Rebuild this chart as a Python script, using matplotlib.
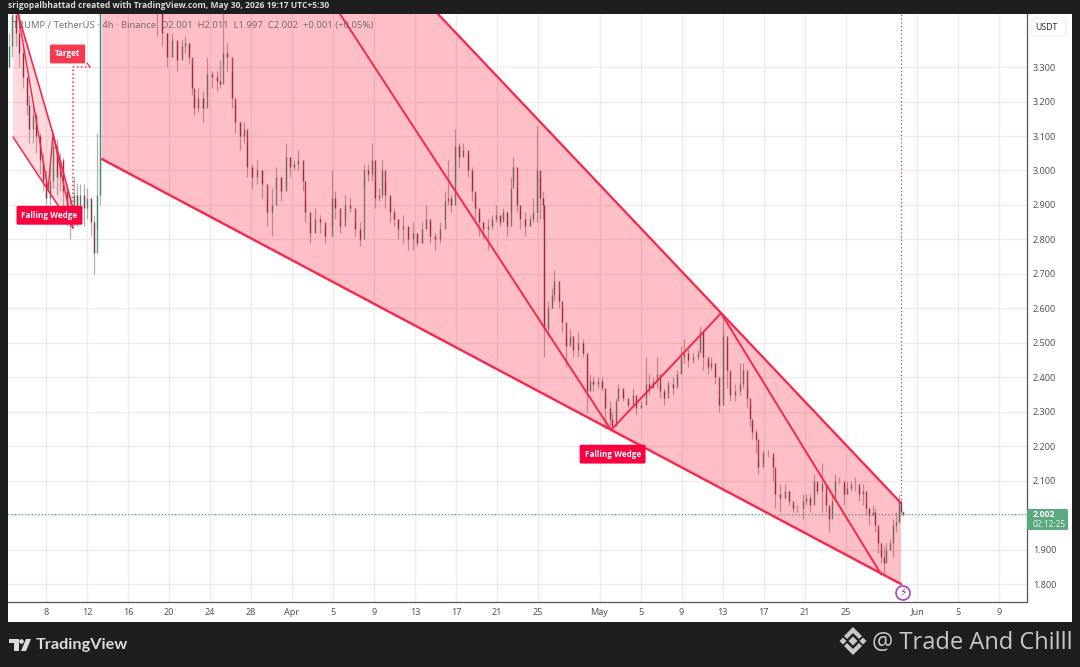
import matplotlib
matplotlib.use('Agg')
import matplotlib.pyplot as plt
from matplotlib.patches import Circle, FancyBboxPatch, Polygon, Rectangle

W, H = 1080, 667
plt.rcParams['font.family'] = ['Noto Sans', 'DejaVu Sans']

# 8h-ish bars: day counted from Mar 1 = 1
bar_day = [4.4, 4.7, 5.1, 5.4, 5.8, 6.1, 6.3, 6.7, 7.0, 7.4, 7.7, 8.0, 8.4, 8.7, 9.1, 9.4, 9.7, 10.0, 10.3, 10.7,
           11.0, 11.3, 11.7, 12.0, 12.4, 12.7, 13.0, 13.3,
           18.8, 19.3, 19.8, 20.3, 20.8, 21.3, 21.6, 21.9, 22.2, 22.4, 22.8, 23.3, 23.7, 24.2, 24.7, 25.0, 25.3, 25.7,
           26.1, 26.4, 26.9, 27.3, 27.6, 28.1, 28.6, 29.1, 29.6, 30.0, 30.4, 30.9, 31.4, 31.8, 32.2, 32.6, 33.1, 33.3,
           33.8, 34.2, 34.7, 35.2, 35.9, 36.2, 36.7, 37.2, 37.7, 38.1, 38.6, 39.0, 39.4, 39.8, 40.1, 40.5, 40.8, 41.1,
           41.6, 41.9, 42.3, 42.8, 43.3, 43.8, 44.2, 44.7, 45.1, 45.5, 45.9, 46.4, 46.9, 47.2, 47.5, 47.9, 48.3, 48.7,
           49.2, 49.6, 49.8, 50.2, 50.6, 51.1, 51.5, 51.9, 52.3, 52.6, 53.0, 53.4, 53.6, 53.9, 54.2, 54.7, 55.2, 55.5,
           55.9, 56.2, 56.5, 56.6, 57.0, 57.4, 57.6, 58.0, 58.3, 58.7, 59.1, 59.4, 59.9, 60.4, 60.8, 61.1, 61.4, 61.8,
           62.2, 62.5, 63.0, 63.2, 63.6, 63.8, 64.3, 64.8, 65.3, 65.6, 66.0, 66.5, 66.8, 67.2, 67.6, 67.9, 68.3, 68.7,
           69.2, 69.6, 69.9, 70.2, 70.6, 71.1, 71.6, 71.8, 72.1, 72.6, 72.9, 73.3, 73.7, 74.0, 74.4, 74.7, 75.2, 75.7,
           76.0, 76.4, 76.7, 76.9, 77.3, 77.5, 77.9, 78.4, 78.9, 79.1, 79.6, 80.1, 80.5, 80.9, 81.3, 81.8, 82.1, 82.5,
           82.9, 83.2, 83.7, 84.1, 84.4, 84.7, 85.0, 85.4, 85.8, 86.1, 86.5, 86.9, 87.3, 87.7, 88.0, 88.3, 88.7, 88.9,
           89.2, 89.5, 89.7, 89.9, 90.3, 90.6, 90.9, 91.2, 91.4, 91.6]
bar_high = [3.40, 3.50, 3.50, 3.47, 3.36, 3.27, 3.22, 3.20, 3.17, 3.11, 3.05, 3.00, 3.03, 3.11, 3.09, 3.05, 3.04, 2.96, 2.93, 2.98,
            2.96, 2.96, 2.96, 2.95, 2.92, 2.87, 3.11, 3.60,
            3.55, 3.50, 3.40, 3.40, 3.37, 3.38, 3.39, 3.37, 3.31, 3.22, 3.24, 3.23, 3.33, 3.29, 3.29, 3.32, 3.46, 3.37,
            3.29, 3.19, 3.14, 3.14, 3.08, 3.02, 3.03, 3.00, 2.92, 2.95, 3.01, 2.98, 3.08, 3.04, 3.03, 3.06, 3.00, 2.91,
            2.85, 2.89, 2.87, 2.84, 3.00, 2.94, 2.85, 2.93, 2.92, 2.85, 2.85, 3.02, 3.02, 3.08, 2.97, 2.95, 3.03, 2.97,
            2.92, 2.89, 2.86, 2.87, 2.84, 2.85, 2.82, 2.85, 2.90, 2.85, 2.82, 2.85, 2.94, 3.03, 2.93, 3.12, 3.08, 3.08,
            3.05, 3.01, 2.93, 2.88, 2.85, 2.86, 2.87, 2.90, 2.87, 2.89, 2.88, 2.98, 3.04, 2.95, 2.89, 2.88, 2.87, 2.92,
            3.13, 2.98, 2.94, 2.90, 2.62, 2.66, 2.71, 2.64, 2.60, 2.52, 2.54, 2.49, 2.53, 2.51, 2.46, 2.41, 2.40, 2.40,
            2.40, 2.35, 2.33, 2.30, 2.34, 2.38, 2.36, 2.33, 2.37, 2.34, 2.33, 2.46, 2.41, 2.40, 2.46, 2.38, 2.37, 2.39,
            2.40, 2.42, 2.49, 2.51, 2.49, 2.47, 2.48, 2.55, 2.53, 2.45, 2.46, 2.43, 2.34, 2.58, 2.50, 2.37, 2.38, 2.44,
            2.44, 2.37, 2.32, 2.27, 2.25, 2.16, 2.19, 2.19, 2.17, 2.10, 2.09, 2.09, 2.07, 2.03, 2.03, 2.06, 2.06, 2.06,
            2.12, 2.09, 2.15, 2.06, 2.02, 2.06, 2.12, 2.11, 2.09, 2.10, 2.10, 2.11, 2.08, 2.09, 2.03, 2.02, 2.03, 2.02,
            1.96, 1.90, 1.91, 1.92, 1.93, 1.99, 2.01, 2.06, 2.03, 2.011]
bar_low = [3.30, 3.33, 3.36, 3.30, 3.24, 3.16, 3.08, 3.08, 3.05, 2.99, 2.94, 2.90, 2.90, 2.95, 2.93, 2.94, 2.89, 2.84, 2.80, 2.84,
           2.84, 2.86, 2.84, 2.86, 2.81, 2.70, 2.83, 2.90,
           3.39, 3.36, 3.30, 3.33, 3.29, 3.33, 3.34, 3.31, 3.22, 3.16, 3.17, 3.14, 3.22, 3.24, 3.23, 3.24, 3.31, 3.29,
           3.18, 3.11, 3.06, 3.08, 2.98, 2.95, 2.96, 2.92, 2.84, 2.81, 2.95, 2.91, 2.95, 2.98, 3.00, 3.00, 2.94, 2.85,
           2.79, 2.82, 2.82, 2.79, 2.84, 2.86, 2.82, 2.86, 2.88, 2.81, 2.78, 2.95, 2.97, 2.97, 2.89, 2.91, 2.92, 2.89,
           2.85, 2.84, 2.80, 2.79, 2.77, 2.77, 2.78, 2.79, 2.83, 2.79, 2.77, 2.79, 2.86, 2.90, 2.88, 2.97, 3.01, 3.04,
           2.98, 2.91, 2.86, 2.81, 2.80, 2.77, 2.83, 2.85, 2.84, 2.86, 2.81, 2.88, 2.97, 2.88, 2.83, 2.81, 2.84, 2.85,
           2.85, 2.86, 2.86, 2.46, 2.52, 2.60, 2.62, 2.60, 2.53, 2.43, 2.50, 2.46, 2.46, 2.46, 2.30, 2.36, 2.36, 2.37,
           2.36, 2.25, 2.25, 2.24, 2.27, 2.34, 2.33, 2.31, 2.33, 2.29, 2.31, 2.34, 2.35, 2.37, 2.37, 2.34, 2.32, 2.36,
           2.35, 2.38, 2.41, 2.44, 2.43, 2.44, 2.45, 2.48, 2.42, 2.41, 2.42, 2.38, 2.30, 2.34, 2.37, 2.33, 2.33, 2.35,
           2.37, 2.31, 2.26, 2.22, 2.18, 2.12, 2.15, 2.17, 2.10, 2.02, 2.01, 2.05, 2.03, 2.01, 2.01, 1.99, 2.03, 2.01,
           2.05, 2.06, 2.01, 2.01, 1.95, 2.00, 2.07, 2.09, 2.03, 2.06, 2.07, 2.07, 2.04, 2.03, 2.00, 1.97, 2.00, 1.95,
           1.89, 1.86, 1.83, 1.88, 1.90, 1.88, 1.95, 1.98, 2.00, 1.997]
bar_close = [3.36, 3.45, 3.40, 3.34, 3.27, 3.19, 3.12, 3.16, 3.10, 3.03, 2.97, 2.92, 2.97, 3.07, 2.98, 3.03, 2.94, 2.88, 2.85, 2.93,
             2.88, 2.93, 2.89, 2.92, 2.85, 2.76, 2.93, 3.52,
             3.47, 3.40, 3.33, 3.38, 3.32, 3.36, 3.37, 3.33, 3.24, 3.18, 3.21, 3.18, 3.28, 3.27, 3.26, 3.25, 3.34, 3.33,
             3.21, 3.14, 3.10, 3.12, 3.01, 2.98, 3.00, 2.96, 2.88, 2.90, 2.98, 2.94, 3.04, 3.01, 3.02, 3.03, 2.97, 2.88,
             2.82, 2.86, 2.85, 2.81, 2.92, 2.89, 2.84, 2.90, 2.89, 2.83, 2.80, 3.00, 2.99, 3.03, 2.92, 2.93, 3.00, 2.93,
             2.88, 2.86, 2.83, 2.84, 2.80, 2.82, 2.79, 2.83, 2.86, 2.81, 2.80, 2.83, 2.91, 2.92, 2.90, 3.07, 3.04, 3.06,
             3.00, 2.94, 2.89, 2.85, 2.83, 2.84, 2.86, 2.87, 2.85, 2.88, 2.84, 2.95, 3.01, 2.90, 2.86, 2.84, 2.86, 2.88,
             3.00, 2.92, 2.90, 2.54, 2.60, 2.64, 2.68, 2.62, 2.56, 2.49, 2.52, 2.48, 2.50, 2.47, 2.36, 2.39, 2.38, 2.39,
             2.37, 2.31, 2.28, 2.26, 2.33, 2.37, 2.34, 2.32, 2.35, 2.31, 2.32, 2.38, 2.37, 2.39, 2.41, 2.36, 2.34, 2.38,
             2.37, 2.41, 2.46, 2.47, 2.45, 2.46, 2.47, 2.53, 2.46, 2.43, 2.44, 2.40, 2.32, 2.52, 2.42, 2.35, 2.36, 2.38,
             2.42, 2.34, 2.28, 2.24, 2.22, 2.14, 2.18, 2.18, 2.14, 2.06, 2.05, 2.07, 2.04, 2.02, 2.02, 2.04, 2.05, 2.03,
             2.10, 2.07, 2.09, 2.03, 1.99, 2.04, 2.10, 2.10, 2.06, 2.08, 2.09, 2.09, 2.06, 2.07, 2.02, 2.00, 2.01, 1.97,
             1.92, 1.88, 1.86, 1.90, 1.92, 1.97, 1.98, 2.04, 2.01, 2.002]

price_ticks = [1.8, 1.9, 2.0, 2.1, 2.2, 2.3, 2.4, 2.5, 2.6, 2.7, 2.8, 2.9, 3.0, 3.1, 3.2, 3.3]
day_ticks = [8, 12, 16, 20, 24, 28, 32, 36, 40, 44, 48, 52, 56, 62, 66, 70, 74, 78, 82, 86, 93, 97, 101]
day_labels = ['8', '12', '16', '20', '24', '28', 'Apr', '5', '9', '13', '17', '21', '25', 'May',
              '5', '9', '13', '17', '21', '25', 'Jun', '5', '9']
last_price = 2.002

# drawings on the chart, (day, price)
big_wedge_day = [13.46, 46.24, 73.85, 91.41, 91.41, 13.46, 13.46]
big_wedge_price = [3.454, 3.454, 2.586, 2.035, 1.80, 3.033, 3.454]
inner_day = [36.68, 63.12, 73.85, 89.46]
inner_price = [3.454, 2.247, 2.586, 1.829]
top_day = [46.24, 91.41]
top_price = [3.454, 2.035]
low_day = [13.46, 91.41]
low_price = [3.033, 1.80]
small_fill_day = [4.78, 5.27, 10.54, 10.63, 4.78]
small_fill_price = [3.454, 3.454, 2.90, 2.833, 3.097]
small_top_day = [5.27, 8.68, 10.54]
small_top_price = [3.454, 3.106, 2.90]
small_zig_day = [5.27, 8.2, 8.68, 10.63]
small_zig_price = [3.454, 2.943, 3.106, 2.833]
small_low_day = [4.78, 10.63]
small_low_price = [3.097, 2.833]
target_day = [10.63, 10.63, 12.29]
target_price = [2.85, 3.30, 3.30]
now_day = [91.41, 91.41]
now_price = [2.035, 3.454]

RED = '#f9264a'
GREY = '#6a6d78'


def to_fig(x0, y0, x1, y1):
    return [x0 / W, 1 - y1 / H, (x1 - x0) / W, (y1 - y0) / H]


fig = plt.figure(figsize=(W / 100, H / 100), dpi=100, facecolor='#1e1e1e')

# white frame of the whole widget
frame = fig.add_axes(to_fig(8, 14, 1072, 622), facecolor='white')
frame.set_xticks([])
frame.set_yticks([])
for s in frame.spines.values():
    s.set_visible(False)

ax = fig.add_axes(to_fig(8, 14, 1026.5, 602), facecolor='white')
ax.set_xlim(4.29, 103.65)
ax.set_ylim(1.748, 3.454)
ax.set_xticks(day_ticks)
ax.set_xticklabels(day_labels, fontsize=6.5, color='#555')
ax.set_yticks(price_ticks)
ax.set_yticklabels(['%.3f' % p for p in price_ticks], fontsize=6.5, color='#555')
ax.yaxis.tick_right()
ax.tick_params(axis='both', length=0)
ax.tick_params(axis='x', pad=4)
ax.tick_params(axis='y', pad=4.5)
ax.grid(True, color='#ececec', lw=1)
ax.set_axisbelow(True)
for side in ['top', 'left']:
    ax.spines[side].set_visible(False)
for side in ['bottom', 'right']:
    ax.spines[side].set_color('#555555')
    ax.spines[side].set_linewidth(0.9)

# candles, open is the close before
for i in range(len(bar_day)):
    op = bar_close[i - 1] if i > 0 else bar_low[i]
    col = '#1f7a58' if bar_close[i] >= op else '#6b0f1f'
    ax.vlines(bar_day[i], bar_low[i], bar_high[i], color='#808080', lw=0.9, alpha=0.6, zorder=2)
    ax.vlines(bar_day[i], op, bar_close[i], color=col, lw=1.0, alpha=0.75, zorder=3)

ax.fill(big_wedge_day, big_wedge_price, color='#ff0028', alpha=0.25, lw=0, zorder=4)
ax.fill(small_fill_day, small_fill_price, color='#ff0028', alpha=0.15, lw=0, zorder=4)
for xs, ys, lw in [(inner_day, inner_price, 1.4), (top_day, top_price, 1.6), (low_day, low_price, 1.7),
                   (small_top_day, small_top_price, 1.2), (small_zig_day, small_zig_price, 1.0),
                   (small_low_day, small_low_price, 1.1)]:
    ax.plot(xs, ys, color=RED, lw=lw, zorder=5, solid_capstyle='round')
ax.plot(target_day, target_price, color=RED, lw=1.1, ls=(0, (1, 1.6)), zorder=5)
ax.plot(now_day, now_price, color='#e0304f', lw=0.9, ls=(0, (1, 2)), zorder=5)
ax.axhline(last_price, color='#3f9a80', lw=0.8, ls=(0, (1, 2)), zorder=5)

for d, p, txt, col in [(8.34, 2.87, 'Falling Wedge', '#fb0041'),
                       (63.27, 2.177, 'Falling Wedge', '#fb0041'),
                       (10.1, 3.338, 'Target', '#f73a50')]:
    ax.text(d, p, txt, color='white', fontsize=5.9, fontweight='bold', ha='center', va='center', zorder=7,
            family=['Open Sans'],
            bbox=dict(boxstyle='round,pad=0.6,rounding_size=0.2', fc=col, ec='none'))

ax.text(5.0 / 1018, 1 - 11.5 / 588,
        'TRUMP / TetherUS · 4h · Binance  O2.001  H2.011  L1.997  C2.002  +0.001 (+0.05%)',
        transform=ax.transAxes, fontsize=6.8, color='#666', va='center', alpha=0.9, zorder=8)

# everything outside the chart, in pixels
top = fig.add_axes([0, 0, 1, 1], facecolor='none')
top.set_xlim(0, W)
top.set_ylim(H, 0)
top.axis('off')

top.text(8, 5, 'srigopalbhattad created with TradingView.com, May 30, 2026 19:17 UTC+5:30',
         color='#d8d8d8', fontsize=6.1, fontweight='bold', va='center', family=['Open Sans'])

# small tail of the Target label
top.plot([87, 90], [63, 67], color=RED, lw=0.9)

top.add_patch(FancyBboxPatch((1031, 18), 35, 18, boxstyle='round,pad=0,rounding_size=3',
                             fc='white', ec='#eeeeee', lw=0.8))
top.text(1046, 27, 'USDT', fontsize=6.3, color='#333', ha='center', va='center')

top.add_patch(FancyBboxPatch((1027, 509), 41, 21, boxstyle='round,pad=0,rounding_size=1.5',
                             fc='#5aa97f', ec='none'))
top.text(1033, 514.5, '2.002', fontsize=6.3, fontweight='bold', color='white', va='center', family=['Open Sans'])
top.text(1033, 524.5, '02:12:25', fontsize=6.0, color='#e8f4ec', va='center')

top.add_patch(Circle((903, 593), 7, fc='white', ec='#b040cc', lw=1.2))
top.text(903, 593, '\u26a1', color='#a030c0', fontsize=8, ha='center', va='center',
         family=['DejaVu Sans'])

# TradingView mark and name
LOGO = '#dcdcdc'
top.add_patch(Rectangle((9, 639), 10, 4, fc=LOGO, ec='none'))
top.add_patch(Rectangle((14, 639), 5, 12, fc=LOGO, ec='none'))
top.add_patch(Circle((21.5, 641.5), 2.3, fc=LOGO, ec='none'))
top.add_patch(Polygon([(26, 639), (31, 639), (26, 651), (21, 651)], fc=LOGO, ec='none'))
top.text(36, 645, 'TradingView', color=LOGO, fontsize=11.7, fontweight='bold', va='center', family=['Lato'])

# diamond mark next to the handle
MARK = '#c8c8c8'
top.add_patch(Polygon([(853, 636.5), (857.5, 641), (853, 645.5), (848.5, 641)], fc=MARK, ec='none'))
top.add_patch(Polygon([(843, 637.5), (846.5, 641), (843, 644.5), (839.5, 641)], fc=MARK, ec='none'))
top.add_patch(Polygon([(863, 637.5), (866.5, 641), (863, 644.5), (859.5, 641)], fc=MARK, ec='none'))
top.add_patch(Polygon([(853, 627), (862, 636), (859, 639), (853, 633), (847, 639), (844, 636)], fc=MARK, ec='none'))
top.add_patch(Polygon([(853, 655), (862, 646), (859, 643), (853, 649), (847, 643), (844, 646)], fc=MARK, ec='none'))
top.text(872, 643, '@ Trade And Chilll', color=MARK, fontsize=17, va='center', family=['Open Sans'])

fig.savefig('out.png', dpi=100, facecolor=fig.get_facecolor())
